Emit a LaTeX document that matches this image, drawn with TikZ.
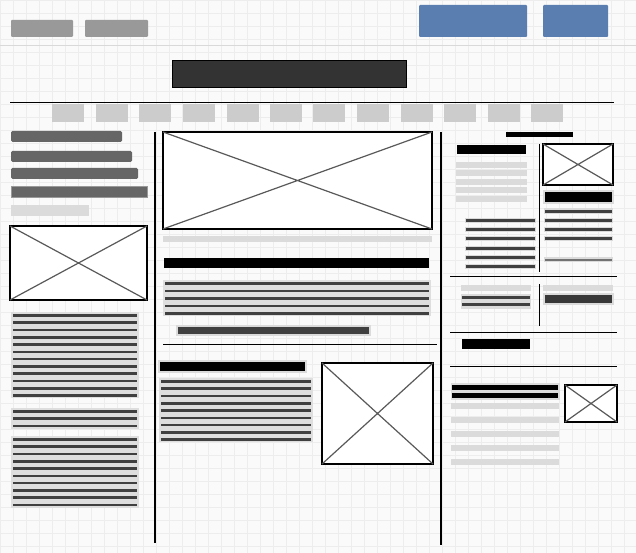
\documentclass[tikz,border=0pt]{standalone}
\definecolor{btnblue}{HTML}{5A7EB0}
\begin{document}
\begin{tikzpicture}[x=1pt,y=-1pt,
  img/.style={draw=black,line width=1.2pt,fill=white},
  cross/.style={draw=black!65,line width=1.2pt},
  rule/.style={draw=black,line width=0.9pt}]
\useasboundingbox (0,0) rectangle (636,553);
\fill[black!2] (0,0) rectangle (636,553);
\foreach \i in {0,13,...,636} \draw[black!7,line width=0.6pt] (\i,0) -- (\i,553);
\foreach \i in {0,13,...,553} \draw[black!7,line width=0.6pt] (0,\i) -- (636,\i);
\newcommand\imgbox[4]{\draw[img] (#1,#2) rectangle (#3,#4); \draw[cross] (#1,#2) -- (#3,#4) (#1,#4) -- (#3,#2);}
\newcommand\txtlines[5]{% x1 x2 y0 n step
  \fill[black!13] (#1-2,#3-2) rectangle (#2+2,{#3+(#4-1)*#5+4});
  \foreach \k in {1,...,#4} \fill[black!75] (#1,{#3+(\k-1)*#5}) rectangle (#2,{#3+(\k-1)*#5+2.6});}
% top
\fill[black!40,rounded corners=1pt] (11,20) rectangle (73,37);
\fill[black!40,rounded corners=1pt] (85,20) rectangle (148,37);
\fill[btnblue,rounded corners=1pt] (419,5) rectangle (527,37);
\fill[btnblue,rounded corners=1pt] (543,5) rectangle (608,37);
\draw[black!15,line width=1pt] (0,46) -- (636,46);
\draw[fill=black!80,line width=0.8pt] (172,60) rectangle (406,87);
\draw[rule] (10,102) -- (614,102);
\foreach \x in {52,96,139,183,227,270,313,357,401,444,488,531} \fill[black!20] (\x,104) rectangle (\x+32,122);
% left column
\fill[black!60,rounded corners=1.5pt] (11,131) rectangle (122,142);
\fill[black!60,rounded corners=1.5pt] (11,151) rectangle (132,162);
\fill[black!60,rounded corners=1.5pt] (11,168) rectangle (138,179);
\draw[black!40,line width=1pt,fill=black!60] (11,187) rectangle (147,198);
\fill[black!14] (11,205) rectangle (89,216);
\imgbox{10}{226}{147}{300}
\txtlines{13}{137}{314}{12}{7.3}
\txtlines{13}{137}{410}{3}{7.3}
\txtlines{13}{137}{438}{10}{7.3}
% column rules
\draw[black,line width=1.1pt] (155,132) -- (155,543);
\draw[black,line width=1.1pt] (441,132) -- (441,545);
% center
\imgbox{163}{132}{432}{229}
\fill[black!14] (163,236) rectangle (432,242);
\fill[black] (164,258) rectangle (429,268);
\txtlines{165}{429}{282}{5}{7.5}
\fill[black!14] (176,325) rectangle (371,336);
\fill[black!75] (178,327) rectangle (369,334);
\draw[rule] (163,344) -- (437,344);
\fill[black!14] (158,360) rectangle (307,373);
\fill[black] (160,362) rectangle (305,371);
\txtlines{161}{311}{380}{9}{7.3}
\imgbox{322}{363}{433}{464}
% right
\fill[black] (506,132) rectangle (573,137);
\fill[black] (457,145) rectangle (526,154);
\foreach \y in {162,170.5,179,187.5,196} \fill[black!14] (456,\y) rectangle (527,\y+6);
\draw[black,line width=1pt] (539,144) -- (539,272);
\imgbox{543}{144}{613}{185}
\fill[black!14] (543,190) rectangle (614,204);
\fill[black] (545,192) rectangle (612,202);
\foreach \y in {210,219,228,237} {\fill[black!14] (544,\y-1.5) rectangle (613,\y+4); \fill[black!75] (545,\y) rectangle (612,\y+2.6);}
\fill[black!14] (544,257) rectangle (613,262); \fill[black!55] (545,258.5) rectangle (612,261);
\foreach \y in {219,228,237,247,256,265} {\fill[black!14] (465,\y-1.5) rectangle (536,\y+4); \fill[black!75] (466,\y) rectangle (535,\y+2.6);}
\draw[rule] (450,276) -- (617,276);
\fill[black!14] (461,285) rectangle (531,291);
\fill[black!14] (543,285) rectangle (613,291);
\fill[black!14] (461,294) rectangle (531,309);
\fill[black!75] (462,296) rectangle (530,299);
\fill[black!75] (462,303) rectangle (530,306);
\fill[black!14] (543,293) rectangle (614,305);
\fill[black!78] (545,295) rectangle (612,303);
\draw[black,line width=1pt] (539,284) -- (539,326);
\draw[rule] (450,332) -- (617,332);
\fill[black] (462,339) rectangle (530,349);
\draw[rule] (450,366) -- (617,366);
\fill[black!14] (451,383) rectangle (560,400);
\fill[black] (452,385) rectangle (558,390);
\fill[black] (452,393) rectangle (558,398);
\foreach \y in {403,417,431,445,459} \fill[black!14] (451,\y) rectangle (559,\y+6);
\imgbox{565}{385}{617}{422}
\end{tikzpicture}
\end{document}
